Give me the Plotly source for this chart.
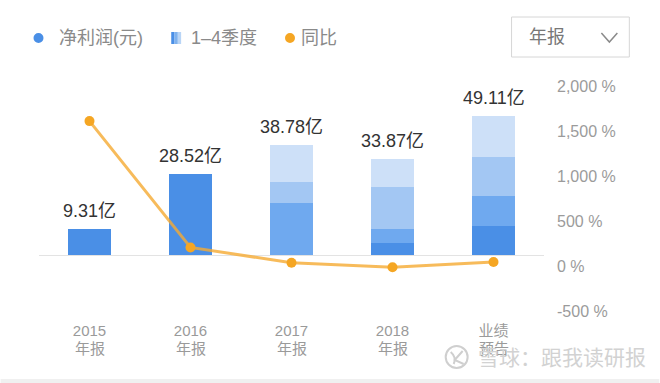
import plotly.graph_objects as go

# ---- data ----
categories = ["2015", "2016", "2017", "2018", "业绩"]
cat_line2 = ["年报", "年报", "年报", "年报", "预告"]
annual_profit = [9.31, 28.52, None, None, None]          # 亿元, single bars
q1 = [None, None, 0.0, 4.1, 10.2]
q2 = [None, None, 18.4, 5.0, 10.7]
q3 = [None, None, 7.4, 14.7, 13.7]
q4 = [None, None, 12.98, 10.07, 14.51]
totals = [9.31, 28.52, 38.78, 33.87, 49.11]
total_labels = ["9.31亿", "28.52亿", "38.78亿", "33.87亿", "49.11亿"]
yoy_pct = [1610, 206, 36, -13, 45]
y2_ticks = [-500, 0, 500, 1000, 1500, 2000]
y2_ticktext = ["-500 %", "0 %", "500 %", "1,000 %", "1,500 %", "2,000 %"]

xi = list(range(len(categories)))

# ---- geometry helpers (pixel -> paper) ----
W, H = 660, 383
L, R, T, B = 38.5, 544.5, 75, 320
def px(x):
    return (x - L) / (R - L)
def py(y):
    return (B - y) / (B - T)

FONT = "Liberation Sans, Noto Sans CJK SC, sans-serif"
C_Q1, C_Q2, C_Q3, C_Q4 = "#4a8fe6", "#6fa9ef", "#a3c7f3", "#cde0f8"
ORANGE = "#f5a623"

fig = go.Figure()
fig.add_bar(x=xi, y=annual_profit, marker_color=C_Q1, marker_line_width=0, name="净利润")
for vals, col in [(q1, C_Q1), (q2, C_Q2), (q3, C_Q3), (q4, C_Q4)]:
    fig.add_bar(x=xi, y=vals, marker_color=col, marker_line_width=0)
fig.add_scatter(x=xi, y=yoy_pct, yaxis="y2", mode="lines+markers",
                line=dict(color="rgba(245,170,50,0.8)", width=3),
                marker=dict(color=ORANGE, size=10), cliponaxis=False)

# bar total labels
for i, t, lab in zip(xi, totals, total_labels):
    fig.add_annotation(x=i, y=t, text=lab, showarrow=False, yanchor="bottom", yshift=6,
                       font=dict(family=FONT, size=18, color="#333333"))
# second line of x labels
for i, lab in zip(xi, cat_line2):
    fig.add_annotation(x=i, y=py(348), yref="paper", text=lab, showarrow=False, yanchor="middle",
                       font=dict(family=FONT, size=15, color="#9a9a9a"))

shapes = []
annos = []
# legend
shapes.append(dict(type="circle", xref="paper", yref="paper", x0=px(33), x1=px(43), y0=py(43), y1=py(33),
                   fillcolor="#4a8fe6", line_width=0))
annos.append(dict(x=px(57), y=py(38), text="净利润(元)", xanchor="left"))
for k, col in enumerate(["#4a8fe6", "#7fb2ee", "#b9d5f6"]):
    shapes.append(dict(type="rect", xref="paper", yref="paper", x0=px(171 + k * 3.3), x1=px(174.3 + k * 3.3),
                       y0=py(44), y1=py(32), fillcolor=col, line_width=0))
annos.append(dict(x=px(189), y=py(38), text="1–4季度", xanchor="left"))
shapes.append(dict(type="circle", xref="paper", yref="paper", x0=px(285), x1=px(295), y0=py(43), y1=py(33),
                   fillcolor=ORANGE, line_width=0))
annos.append(dict(x=px(299), y=py(38), text="同比", xanchor="left"))
for a in annos:
    fig.add_annotation(xref="paper", yref="paper", showarrow=False, yanchor="middle",
                       font=dict(family=FONT, size=18, color="#8a8a8a"), **a)

# dropdown box
shapes.append(dict(type="rect", xref="paper", yref="paper", x0=px(512), x1=px(630), y0=py(57), y1=py(17),
                   line=dict(color="#d6d6d6", width=1), fillcolor="white"))
fig.add_annotation(xref="paper", yref="paper", x=px(527), y=py(37), text="年报", xanchor="left",
                   yanchor="middle", showarrow=False, font=dict(family=FONT, size=18, color="#777777"))
shapes.append(dict(type="path", xref="paper", yref="paper",
                   path=f"M {px(602)} {py(33)} L {px(610)} {py(42)} L {px(618)} {py(33)}",
                   line=dict(color="#8a8a8a", width=1.5)))

# watermark
shapes.append(dict(type="circle", xref="paper", yref="paper", x0=px(446), x1=px(468), y0=py(368), y1=py(346),
                   line=dict(color="#cfcfcf", width=2)))
shapes.append(dict(type="path", xref="paper", yref="paper",
                   path=f"M {px(451)} {py(352)} Q {px(457)} {py(357)} {px(454)} {py(364)} "
                        f"M {px(463)} {py(351)} L {px(455)} {py(360)} L {px(464)} {py(364)}",
                   line=dict(color="#cfcfcf", width=2)))
fig.add_annotation(xref="paper", yref="paper", x=px(476), y=py(357), text="雪球：跟我读研报", xanchor="left",
                   yanchor="middle", showarrow=False, font=dict(family=FONT, size=21, color="#d2d2d2"))
# bottom band
shapes.append(dict(type="rect", xref="paper", yref="paper", x0=px(0), x1=px(660), y0=py(383), y1=py(379),
                   fillcolor="#f0f0f0", line_width=0))

fig.update_layout(
    width=W, height=H, margin=dict(l=L, r=W - R, t=T, b=H - B),
    paper_bgcolor="white", plot_bgcolor="white",
    barmode="stack", bargap=0.565, showlegend=False, shapes=shapes,
    xaxis=dict(range=[-0.5, len(categories) - 0.5], tickvals=xi, ticktext=categories, showgrid=False,
               showline=False, zeroline=False, ticks="",
               tickfont=dict(family=FONT, size=15, color="#9a9a9a"), ticklabelstandoff=0),
    yaxis=dict(range=[-(B - 255) / 2.84, (255 - T) / 2.84], visible=True, showticklabels=False,
               showgrid=False, zeroline=True, zerolinecolor="#e3e3e3", zerolinewidth=1),
    yaxis2=dict(overlaying="y", side="right", range=[-(B - 266) * 500 / 45, (266 - T) * 500 / 45],
                tickvals=y2_ticks, ticktext=y2_ticktext, showgrid=False, zeroline=False,
                tickfont=dict(family=FONT, size=16, color="#9b9b9b"), ticklabelstandoff=12),
)

fig.write_html("out.html", config={"displayModeBar": False},
               post_script="document.body.style.margin='0';")
